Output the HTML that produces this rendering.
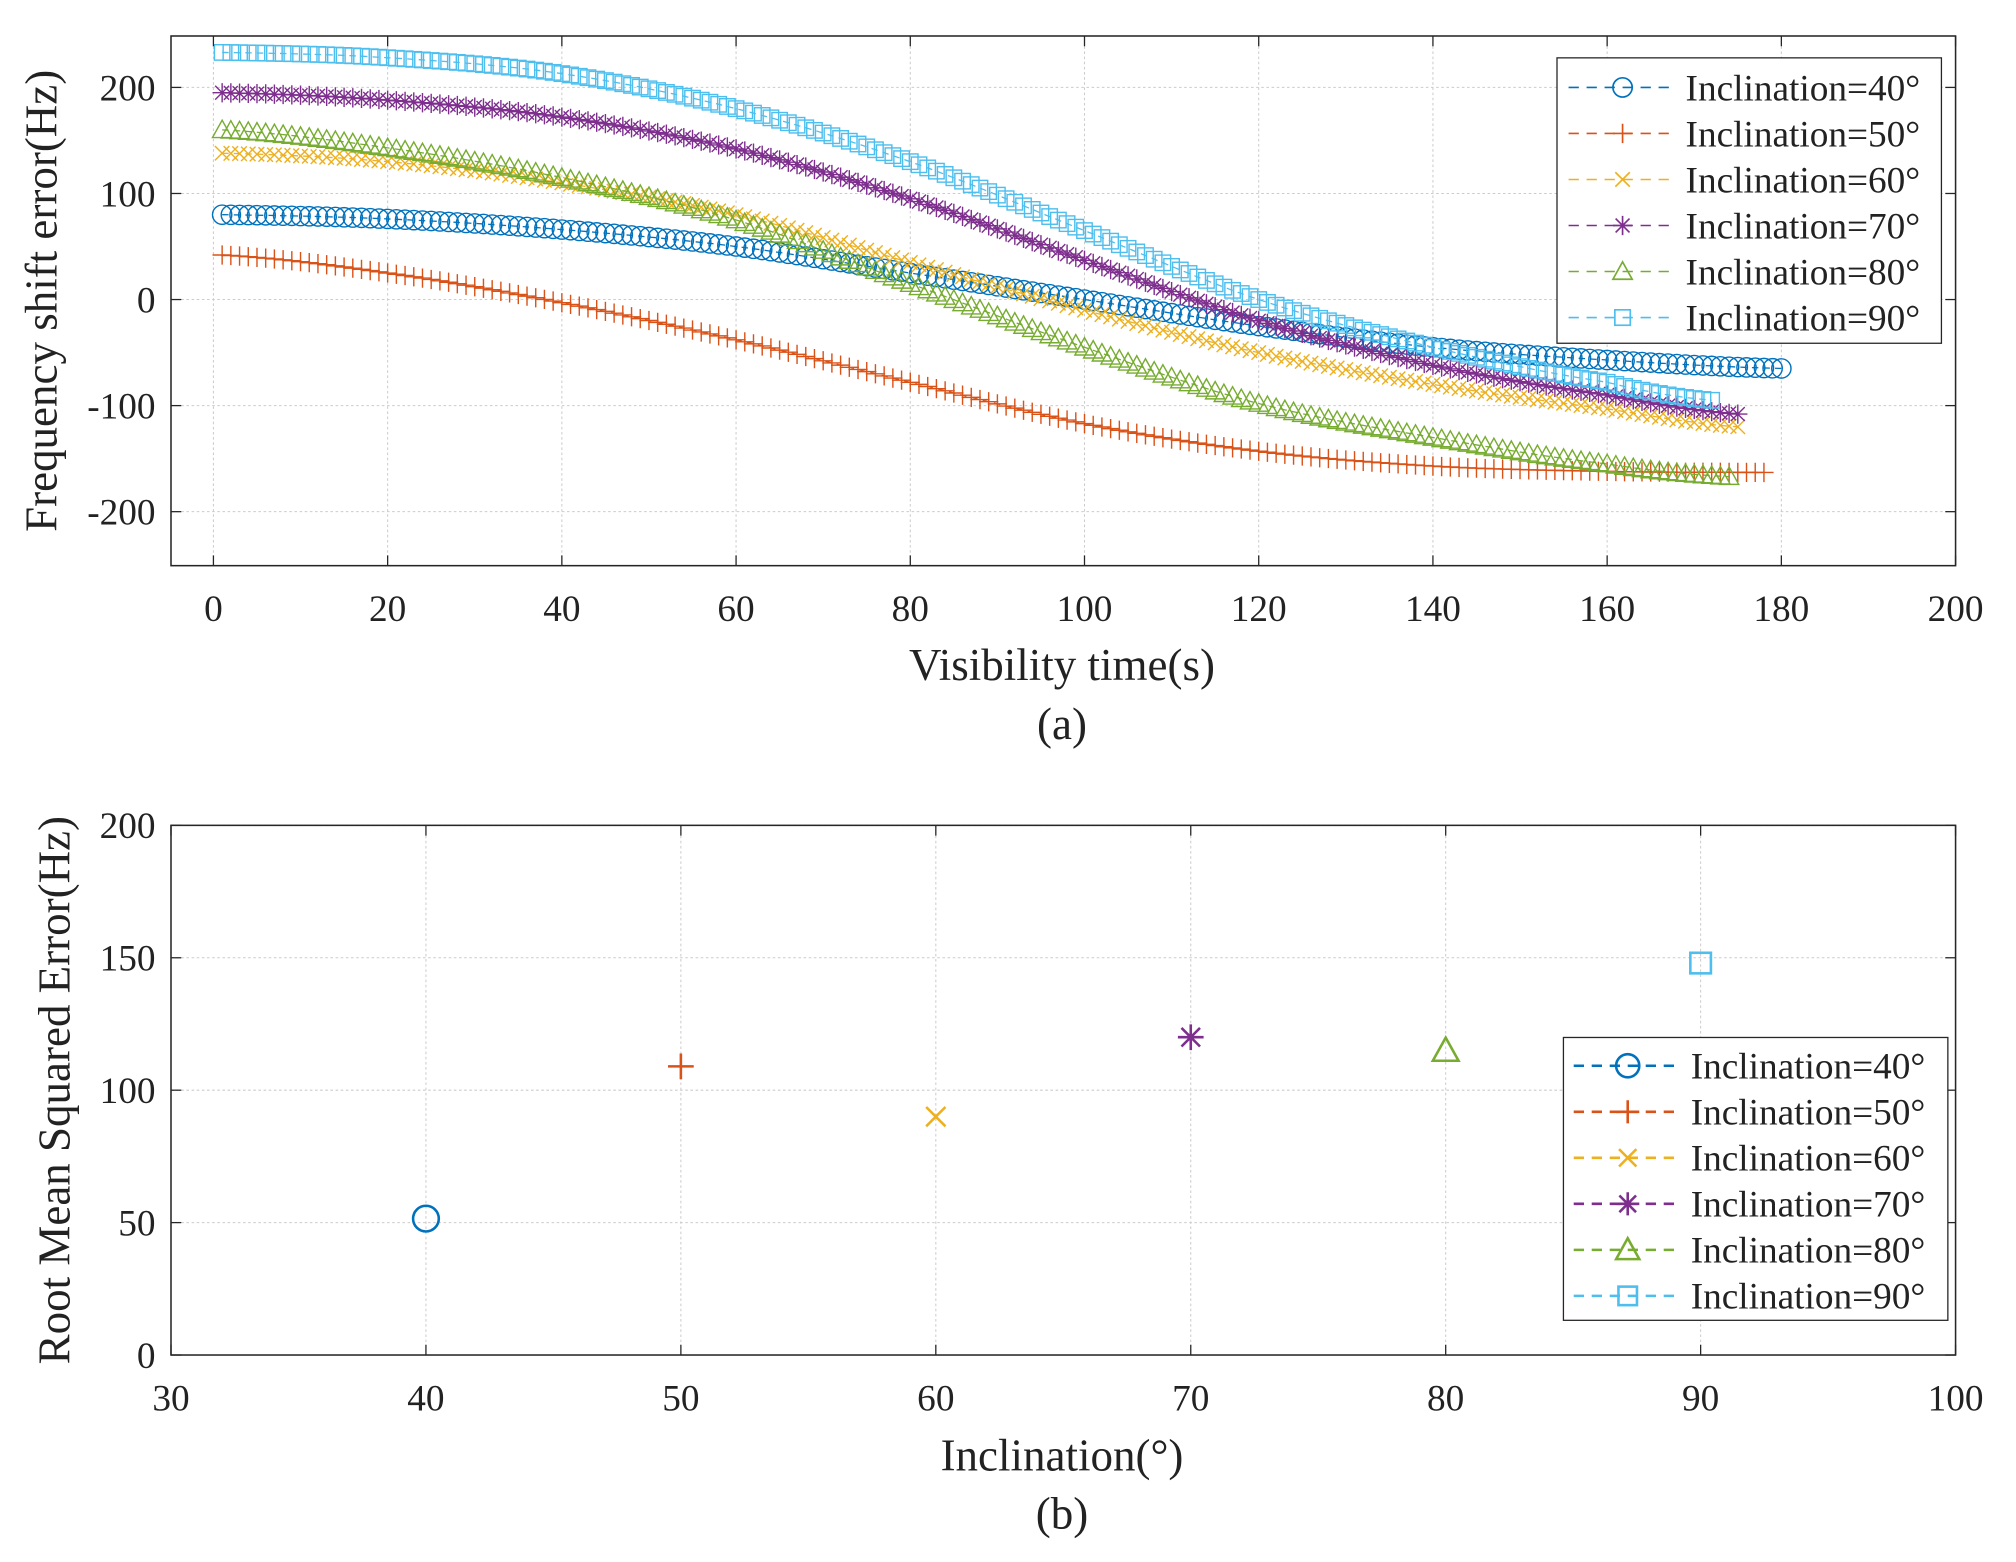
<!DOCTYPE html>
<html><head><meta charset="utf-8"><style>
html,body{margin:0;padding:0;background:#fff;}
svg{display:block;}
text{font-family:"Liberation Serif",serif;fill:#222;}
</style></head><body>
<svg id="s" width="2016" height="1562" viewBox="0 0 1568 1215" preserveAspectRatio="none" xmlns="http://www.w3.org/2000/svg">
<rect width="1568" height="1215" fill="#fff"/>
<g id="g"></g>
</svg>
<script>
const G=document.getElementById('g');
let H='';
const C=['#0072BD','#D95319','#EDB120','#7E2F8E','#77AC30','#4DBEEE'];
const labels=['Inclination=40°','Inclination=50°','Inclination=60°','Inclination=70°','Inclination=80°','Inclination=90°'];
function mk(type,x,y,s,c,w){
  w=w||1.3;const h=s/2;
  const st=`fill="none" stroke="${c}" stroke-width="${w}"`;
  switch(type){
    case 0:return `<circle cx="${x}" cy="${y}" r="${h}" ${st}/>`;
    case 1:return `<path d="M${x-h} ${y}H${x+h}M${x} ${y-h}V${y+h}" ${st}/>`;
    case 2:{const d=h*0.75;return `<path d="M${x-d} ${y-d}L${x+d} ${y+d}M${x-d} ${y+d}L${x+d} ${y-d}" ${st}/>`;}
    case 3:{const d=h*0.72;return `<path d="M${x-h} ${y}H${x+h}M${x} ${y-h}V${y+h}M${x-d} ${y-d}L${x+d} ${y+d}M${x-d} ${y+d}L${x+d} ${y-d}" ${st}/>`;}
    case 4:return `<path d="M${x} ${y-h}L${x+h} ${y+h*0.8}L${x-h} ${y+h*0.8}Z" ${st}/>`;
    case 5:{const d=h*0.8;return `<rect x="${x-d}" y="${y-d}" width="${2*d}" height="${2*d}" ${st}/>`;}
  }
}
const L=133,R=1521,T1=28,B1=440;
const xa=t=>166+t*(1521-166)/200, ya=v=>233-v*0.825;
for(let t=0;t<=200;t+=20){const x=xa(t);H+=`<line x1="${x}" y1="${T1}" x2="${x}" y2="${B1}" stroke="#ccc" stroke-width="0.8" stroke-dasharray="2,2"/>`;}
for(let v=-200;v<=200;v+=100){const y=ya(v);H+=`<line x1="${L}" y1="${y}" x2="${R}" y2="${y}" stroke="#ccc" stroke-width="0.8" stroke-dasharray="2,2"/>`;}
const D=[
[[1,80],[20,76],[40,66],[60,50],[80,25],[100,0],[120,-25],[140,-45],[160,-57],[180,-65]],
[[1,42],[20,25],[40,-3],[60,-38],[80,-78],[100,-117],[120,-143],[140,-157],[160,-162],[178,-163]],
[[1,138],[20,130],[40,110],[60,80],[80,35],[100,-10],[120,-50],[140,-80],[160,-103],[175,-120]],
[[1,195],[20,188],[40,172],[60,142],[80,95],[100,37],[120,-20],[140,-62],[160,-90],[175,-108]],
[[1,160],[20,143],[40,115],[60,75],[80,15],[100,-45],[120,-98],[140,-130],[160,-155],[174,-167]],
[[1,233],[20,228],[40,213],[60,180],[80,130],[100,65],[120,0],[140,-45],[160,-78],[172,-95]]];
function interp(p,t){
  for(let i=0;i<p.length-1;i++){if(t<=p[i+1][0]){
    const a=p[i],b=p[i+1];const u=(t-a[0])/(b[0]-a[0]);
    const p0=p[Math.max(i-1,0)],p3=p[Math.min(i+2,p.length-1)];
    const m1=(b[1]-p0[1])/2,m2=(p3[1]-a[1])/2;
    const u2=u*u,u3=u2*u;
    return (2*u3-3*u2+1)*a[1]+(u3-2*u2+u)*m1+(-2*u3+3*u2)*b[1]+(u3-u2)*m2;}}
  return p[p.length-1][1];
}
for(let k=0;k<6;k++){
  const p=D[k];const end=p[p.length-1][0];
  let d='';let m='';
  for(let t=1;t<=end+0.001;t+=1.0){const x=xa(t),y=ya(interp(p,t));d+=(d?'L':'M')+x.toFixed(1)+' '+y.toFixed(1);m+=mk(k,x,y,15,C[k],1.1);}
  H+=`<path d="${d}" fill="none" stroke="${C[k]}" stroke-width="1" stroke-dasharray="5,4"/>`+m;
}
H+=`<rect x="${L}" y="${T1}" width="${R-L}" height="${B1-T1}" fill="none" stroke="#262626" stroke-width="1.2"/>`;
for(let t=0;t<=200;t+=20){const x=xa(t);H+=`<line x1="${x}" y1="${B1}" x2="${x}" y2="${B1-8}" stroke="#262626"/><line x1="${x}" y1="${T1}" x2="${x}" y2="${T1+8}" stroke="#262626"/><text x="${x}" y="${483}" font-size="29" text-anchor="middle">${t}</text>`;}
for(let v=-200;v<=200;v+=100){const y=ya(v);H+=`<line x1="${L}" y1="${y}" x2="${L+8}" y2="${y}" stroke="#262626"/><line x1="${R}" y1="${y}" x2="${R-8}" y2="${y}" stroke="#262626"/><text x="${121}" y="${y+10}" font-size="29" text-anchor="end">${v}</text>`;}
H+=`<text x="826" y="529" font-size="35" text-anchor="middle">Visibility time(s)</text>`;
H+=`<text x="826" y="575" font-size="35" text-anchor="middle">(a)</text>`;
H+=`<text transform="translate(44,234) rotate(-90)" font-size="35" text-anchor="middle">Frequency shift error(Hz)</text>`;
H+=`<rect x="1211" y="45" width="299" height="222" fill="#fff" stroke="#262626" stroke-width="1"/>`;
for(let k=0;k<6;k++){const y=68+k*35.8;
  H+=`<line x1="1220" y1="${y}" x2="1302" y2="${y}" stroke="${C[k]}" stroke-width="1.2" stroke-dasharray="8,6"/>`+mk(k,1262,y,15,C[k],1.3);
  H+=`<text x="1311" y="${y+10}" font-size="29">${labels[k]}</text>`;}
const T2=642,B2=1054;
const xb=v=>133+(v-30)*(1521-133)/70, yb=v=>1054-v*(1054-642)/200;
for(let v=30;v<=100;v+=10){const x=xb(v);H+=`<line x1="${x}" y1="${T2}" x2="${x}" y2="${B2}" stroke="#ccc" stroke-width="0.8" stroke-dasharray="2,2"/>`;}
for(let v=0;v<=200;v+=50){const y=yb(v);H+=`<line x1="${L}" y1="${y}" x2="${R}" y2="${y}" stroke="#ccc" stroke-width="0.8" stroke-dasharray="2,2"/>`;}
const P=[[40,51.5],[50,109],[60,90],[70,120],[80,115],[90,148]];
for(let k=0;k<6;k++){H+=mk(k,xb(P[k][0]),yb(P[k][1]),20,C[k],2);}
H+=`<rect x="${L}" y="${T2}" width="${R-L}" height="${B2-T2}" fill="none" stroke="#262626" stroke-width="1.2"/>`;
for(let v=30;v<=100;v+=10){const x=xb(v);H+=`<line x1="${x}" y1="${B2}" x2="${x}" y2="${B2-8}" stroke="#262626"/><line x1="${x}" y1="${T2}" x2="${x}" y2="${T2+8}" stroke="#262626"/><text x="${x}" y="1097" font-size="29" text-anchor="middle">${v}</text>`;}
for(let v=0;v<=200;v+=50){const y=yb(v);H+=`<line x1="${L}" y1="${y}" x2="${L+8}" y2="${y}" stroke="#262626"/><line x1="${R}" y1="${y}" x2="${R-8}" y2="${y}" stroke="#262626"/><text x="121" y="${y+10}" font-size="29" text-anchor="end">${v}</text>`;}
H+=`<text x="826" y="1144" font-size="35" text-anchor="middle">Inclination(°)</text>`;
H+=`<text x="826" y="1189" font-size="35" text-anchor="middle">(b)</text>`;
H+=`<text transform="translate(54,848) rotate(-90)" font-size="35" text-anchor="middle">Root Mean Squared Error(Hz)</text>`;
H+=`<rect x="1216" y="807" width="299" height="220" fill="#fff" stroke="#262626" stroke-width="1"/>`;
for(let k=0;k<6;k++){const y=829+k*35.8;
  H+=`<line x1="1224" y1="${y}" x2="1306" y2="${y}" stroke="${C[k]}" stroke-width="2" stroke-dasharray="8,6"/>`+mk(k,1266,y,18,C[k],2);
  H+=`<text x="1315" y="${y+10}" font-size="29">${labels[k]}</text>`;}
G.innerHTML=H;
</script>
</body></html>
